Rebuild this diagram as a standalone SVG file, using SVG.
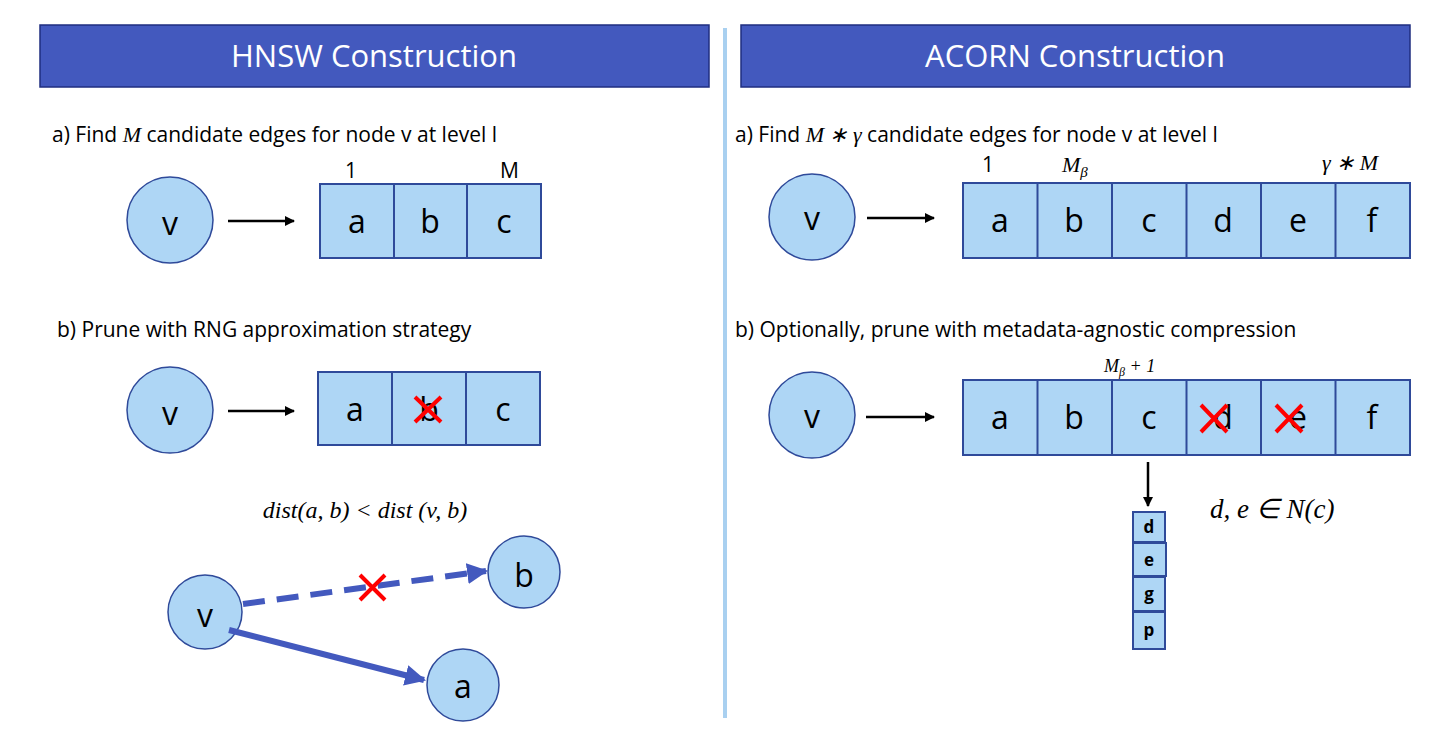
<svg xmlns="http://www.w3.org/2000/svg" width="1440" height="755" viewBox="0 0 1440 755">
<defs>
<style>
.hdr{fill:#4359BE;stroke:#1F2E80;stroke-width:1.5}
.ht{fill:#fff;font-family:"Open Sans",sans-serif;font-size:31px;text-anchor:middle}
.t{font-family:"Open Sans",sans-serif;font-size:21px;fill:#000}
.nd{fill:#AED6F5;stroke:#2F4A9A;stroke-width:1.5}
.cell{fill:#AED6F5;stroke:#2F4A9A;stroke-width:2}
.lt{font-family:"Open Sans",sans-serif;font-size:32px;text-anchor:middle;fill:#000}
.st{font-family:"Open Sans",sans-serif;font-size:17px;font-weight:bold;text-anchor:middle;fill:#000}
.m{font-family:"Liberation Serif",serif;font-style:italic;fill:#000}
.x{stroke:#FF0000;stroke-width:4}
.ar{stroke:#000;stroke-width:2.5;fill:none}
</style>
<marker id="ah" viewBox="0 0 10 10" refX="9" refY="5" markerWidth="4" markerHeight="4" orient="auto"><path d="M0,0L10,5L0,10z" fill="#000"/></marker>
<marker id="bh" viewBox="0 0 10 10" refX="9" refY="5" markerWidth="3.5" markerHeight="3.5" orient="auto"><path d="M0,0L10,5L0,10z" fill="#4359BE"/></marker>
</defs>
<rect width="1440" height="755" fill="#fff"/>
<line x1="725" y1="28" x2="725" y2="718" stroke="#A9D0F0" stroke-width="4"/>
<g id="hnsw-header"><rect class="hdr" x="40" y="25" width="669" height="62"/><text class="ht" x="374" y="67">HNSW Construction</text></g>
<g id="acorn-header"><rect class="hdr" x="741" y="25" width="669" height="62"/><text class="ht" x="1075" y="67">ACORN Construction</text></g>

<text class="t" x="52" y="142">a) Find <tspan class="m" font-size="22">M</tspan> candidate edges for node v at level l</text>
<text class="t" x="345" y="178" font-size="24">1</text>
<text class="t" x="500" y="178" font-size="24">M</text>
<g id="h-v1"><circle class="nd" cx="170" cy="220" r="43"/><text class="lt" x="170" y="235" font-size="38">v</text></g>
<g id="h-list1">
<rect class="cell" x="320" y="184" width="74" height="74"/><rect class="cell" x="394" y="184" width="73" height="74"/><rect class="cell" x="467" y="184" width="74" height="74"/>
<text class="lt" x="357" y="233">a</text><text class="lt" x="430" y="233">b</text><text class="lt" x="504" y="233">c</text>
</g>
<text class="t" x="57" y="337">b) Prune with RNG approximation strategy</text>
<g id="h-v2"><circle class="nd" cx="170" cy="410" r="43"/><text class="lt" x="170" y="425" font-size="38">v</text></g>
<g id="h-list2">
<rect class="cell" x="318" y="372" width="74" height="73"/><rect class="cell" x="392" y="372" width="74" height="73"/><rect class="cell" x="466" y="372" width="74" height="73"/>
<text class="lt" x="355" y="421">a</text><text class="lt" x="429" y="421">b</text><text class="lt" x="503" y="421">c</text>
<path class="x" d="M415,397L441,422M441,397L415,422"/>
</g>
<text class="m" x="365" y="518" font-size="24" text-anchor="middle">dist(a, b) &lt; dist (v, b)</text>
<g id="h-v3"><circle class="nd" cx="205" cy="612" r="37"/><text class="lt" x="205" y="627" font-size="36">v</text></g>
<g id="h-b"><circle class="nd" cx="524" cy="572" r="36"/><text class="lt" x="524" y="587" font-size="36">b</text></g>
<g id="h-a"><circle class="nd" cx="463" cy="685" r="36"/><text class="lt" x="463" y="698" font-size="36">a</text></g>

<g id="a-v1"><circle class="nd" cx="812" cy="217" r="43"/><text class="lt" x="812" y="230" font-size="34">v</text></g>
<text class="t" x="735" y="142">a) Find <tspan class="m" font-size="22">M ∗ γ</tspan> candidate edges for node v at level l</text>
<text class="t" x="982" y="172" font-size="24">1</text>
<text class="m" x="1062" y="172" font-size="22">M<tspan font-size="15" dy="5">β</tspan></text>
<text class="m" x="1322" y="170" font-size="22">γ ∗ M</text>
<g id="a-list1">
<rect class="cell" x="963" y="183" width="447" height="75"/>
<path d="M1037.5,183V258M1112,183V258M1186.5,183V258M1261,183V258M1335.5,183V258" stroke="#2F4A9A" stroke-width="2"/>
<text class="lt" x="1000" y="232">a</text><text class="lt" x="1074" y="232">b</text><text class="lt" x="1149" y="232">c</text><text class="lt" x="1223" y="232">d</text><text class="lt" x="1298" y="232">e</text><text class="lt" x="1372" y="232">f</text>
</g>
<text class="t" x="735" y="337">b) Optionally, prune with metadata-agnostic compression</text>
<text class="m" x="1104" y="372" font-size="18">M<tspan font-size="12" dy="4">β</tspan><tspan dy="-4"> + 1</tspan></text>
<g id="a-v2"><circle class="nd" cx="812" cy="415" r="43"/><text class="lt" x="812" y="428" font-size="34">v</text></g>
<g id="a-list2">
<rect class="cell" x="963" y="380" width="447" height="75"/>
<path d="M1037.5,380V455M1112,380V455M1186.5,380V455M1261,380V455M1335.5,380V455" stroke="#2F4A9A" stroke-width="2"/>
<text class="lt" x="1000" y="429">a</text><text class="lt" x="1074" y="429">b</text><text class="lt" x="1149" y="429">c</text><text class="lt" x="1223" y="429">d</text><text class="lt" x="1298" y="429">e</text><text class="lt" x="1372" y="429">f</text>
<path class="x" d="M1201,405L1227,432M1227,405L1201,432M1276,405L1302,432M1302,405L1276,432"/>
</g>
<g id="a-stack">
<rect class="cell" x="1133" y="512" width="32" height="30"/><rect class="cell" x="1133" y="543" width="33" height="33"/><rect class="cell" x="1133" y="577" width="32" height="34"/><rect class="cell" x="1133" y="612" width="32" height="37"/>
<text class="st" x="1149" y="533">d</text><text class="st" x="1149" y="566">e</text><text class="st" x="1149" y="600">g</text><text class="st" x="1149" y="636">p</text>
</g>
<text class="m" x="1210" y="518" font-size="27">d, e ∈ N(c)</text>

<g id="connectors">
<line class="ar" x1="228" y1="221" x2="294" y2="221" marker-end="url(#ah)"/>
<line class="ar" x1="228" y1="411" x2="294" y2="411" marker-end="url(#ah)"/>
<line class="ar" x1="867" y1="218" x2="934" y2="218" marker-end="url(#ah)"/>
<line class="ar" x1="866" y1="417" x2="934" y2="417" marker-end="url(#ah)"/>
<line class="ar" x1="1148" y1="462" x2="1148" y2="506" marker-end="url(#ah)"/>
<line x1="243" y1="604" x2="486" y2="571" stroke="#4359BE" stroke-width="6" stroke-dasharray="22,12" marker-end="url(#bh)"/>
<line x1="229" y1="630" x2="424" y2="680" stroke="#4359BE" stroke-width="6" marker-end="url(#bh)"/>
<path class="x" d="M360,575L385,600M385,575L360,600"/>
</g>
</svg>
